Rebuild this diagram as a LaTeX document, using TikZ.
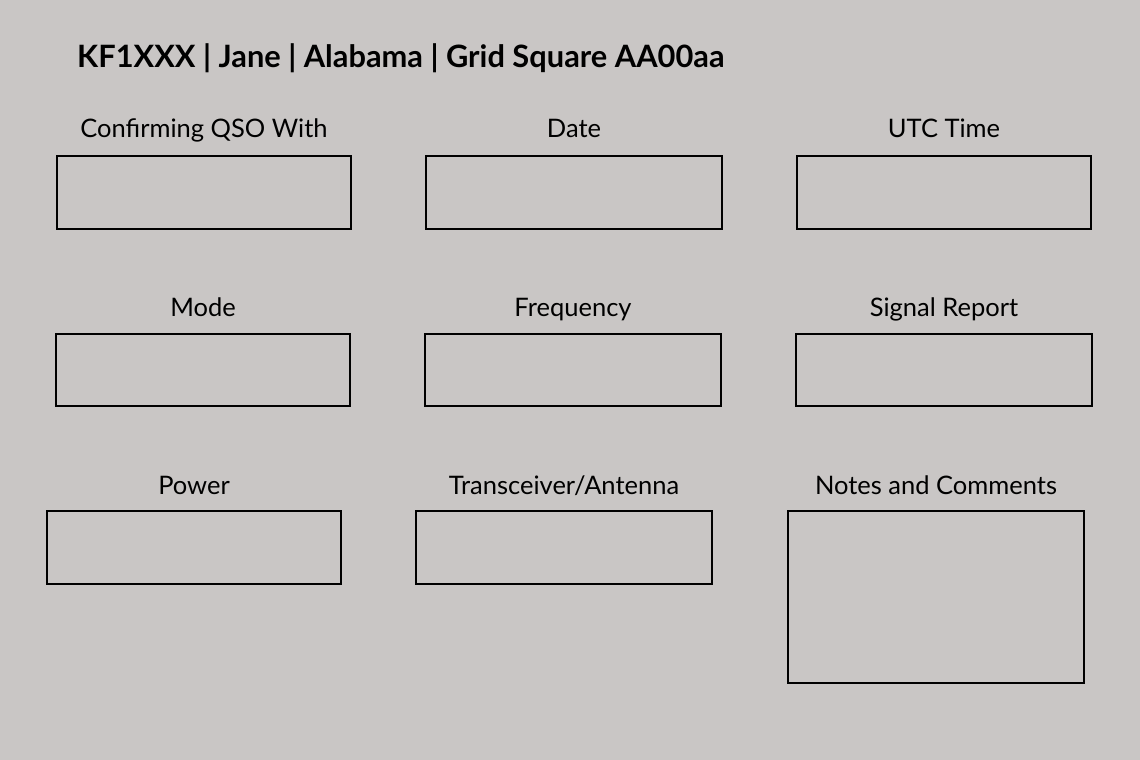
\documentclass[tikz,border=0pt]{standalone}
\usepackage{fontspec}
\setmainfont{Lato}
\definecolor{bg}{RGB}{201,198,197}
\begin{document}
\begin{tikzpicture}[x=1pt,y=-1pt,
  box/.style={draw=black,line width=1.4pt},
  lab/.style={font=\fontsize{25.5}{28}\selectfont,anchor=base}]
\fill[bg] (0,0) rectangle (1140,760);
\useasboundingbox (0,0) rectangle (1140,760);
\node[anchor=base west,inner sep=0,font=\bfseries\fontsize{30.8}{34}\selectfont] (title) at (77,67) {KF1XXX | Jane | Alabama | Grid Square AA00aa};
\draw[box] (57,156) rectangle (351,229) node[midway] (b1) {};
\draw[box] (426,156) rectangle (722,229) node[midway] (b2) {};
\draw[box] (797,156) rectangle (1091,229) node[midway] (b3) {};
\draw[box] (56,334) rectangle (350,406) node[midway] (b4) {};
\draw[box] (425,334) rectangle (721,406) node[midway] (b5) {};
\draw[box] (796,334) rectangle (1092,406) node[midway] (b6) {};
\draw[box] (47,511) rectangle (341,584) node[midway] (b7) {};
\draw[box] (416,511) rectangle (712,584) node[midway] (b8) {};
\draw[box] (788,511) rectangle (1084,683) node[midway] (b9) {};
\node[lab] (l1) at (204,137) {Confirming QSO With};
\node[lab] (l2) at (574,137) {Date};
\node[lab] (l3) at (944,137) {UTC Time};
\node[lab] (l4) at (203,316) {Mode};
\node[lab] (l5) at (573,316) {Frequency};
\node[lab] (l6) at (944,316) {Signal Report};
\node[lab] (l7) at (194,494) {Power};
\node[lab] (l8) at (564,494) {Transceiver/Antenna};
\node[lab] (l9) at (936,494) {Notes and Comments};
\end{tikzpicture}
\end{document}
